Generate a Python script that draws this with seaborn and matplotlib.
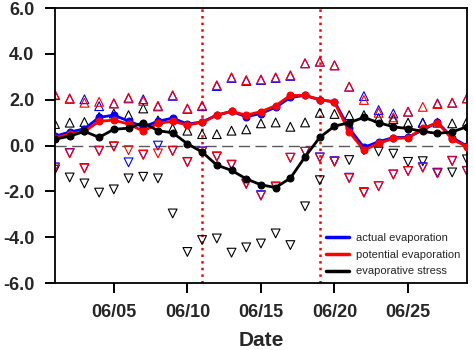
import numpy as np
import pandas as pd
import seaborn as sns
import matplotlib.pyplot as plt
from matplotlib.lines import Line2D

# Daily values, June 1 - June 29
days = list(range(1, 30))

actual = [0.41, 0.59, 0.73, 1.23, 1.33, 1.07, 0.82, 1.06, 1.20, 0.94,
          1.03, 1.33, 1.49, 1.26, 1.40, 1.67, 2.10, 2.19, 1.99, 1.92,
          0.75, -0.08, 0.17, 0.35, 0.36, 0.68, 1.02, 0.35, -0.02]
potential = [0.34, 0.50, 0.62, 1.06, 1.11, 0.94, 0.63, 0.97, 1.06, 0.90,
             1.01, 1.33, 1.49, 1.33, 1.48, 1.74, 2.19, 2.19, 2.01, 1.89,
             0.60, -0.20, 0.10, 0.31, 0.34, 0.75, 1.00, 0.28, -0.05]
stress = [0.28, 0.41, 0.62, 0.36, 0.71, 0.76, 1.00, 0.65, 0.56, 0.08,
          -0.28, -0.85, -1.08, -1.45, -1.71, -1.83, -1.42, -0.49, 0.36, 0.85,
          1.00, 1.23, 1.00, 0.82, 0.74, 0.62, 0.53, 0.60, 0.82]

# upper (triangle up) and lower (triangle down) values
actual_hi = [2.20, 2.04, 2.02, 1.72, 1.84, 2.06, 2.02, 1.71, 2.17, 1.60,
             1.72, 2.60, 2.95, 2.82, 2.86, 2.95, 3.04, 3.59, 3.66, 3.50,
             2.57, 2.16, 1.55, 1.40, 1.48, 1.00, 1.84, 1.87, 2.06]
potential_hi = [2.23, 2.06, 1.87, 1.91, 1.84, 2.09, 1.95, 1.74, 2.20, 1.62,
                1.75, 2.64, 2.98, 2.86, 2.89, 2.98, 3.07, 3.59, 3.66, 3.50,
                2.57, 1.99, 1.43, 1.23, 1.48, 1.69, 1.81, 1.87, 2.06]
stress_hi = [0.94, 1.00, 1.03, 1.25, 1.40, 1.33, 1.62, 1.10, 0.75, 0.65,
             0.50, 0.50, 0.65, 0.71, 0.97, 1.01, 0.82, 1.01, 1.43, 1.38,
             1.33, 1.33, 1.20, 1.15, 1.00, 1.00, 1.00, 0.97, 1.04]

actual_lo = [-0.95, -0.32, -0.98, -0.22, -0.03, -0.73, -0.39, 0.00, -0.22, -0.71,
             -0.25, -0.47, -0.83, -1.65, -2.16, -1.78, -0.53, -0.27, -0.51, -0.68,
             -1.40, -2.03, -1.77, -1.26, -1.11, -0.94, -1.18, -0.66, -1.10]
potential_lo = [-0.97, -0.34, -1.00, -0.24, -0.05, -0.20, -0.41, -0.34, -0.24, -0.73,
                -0.27, -0.49, -0.85, -1.68, -2.19, -1.81, -0.53, -0.27, -0.53, -0.70,
                -1.43, -2.06, -1.77, -1.26, -1.11, -0.97, -1.21, -0.68, -1.12]
stress_lo = [-1.05, -1.39, -1.65, -2.05, -1.91, -1.43, -1.36, -1.43, -2.96, -4.64,
             -4.12, -4.05, -4.67, -4.44, -4.27, -3.83, -4.34, -2.65, -1.51, -0.70,
             -0.63, -0.20, -0.26, -0.35, -0.71, -0.68, -1.20, -1.17, -0.60]

tick_days = [5, 10, 15, 20, 25]
tick_labels = ['06/05', '06/10', '06/15', '06/20', '06/25']
event_days = [11, 19]

sns.set_style('ticks')
plt.rcParams['font.family'] = ['Liberation Sans', 'DejaVu Sans']

fig = plt.figure(figsize=(4.74, 3.5), dpi=100)
ax = fig.add_axes([0.116, 0.191, 0.869, 0.786])

ax.axhline(0, color='0.35', lw=1.0, dashes=(8, 4), zorder=1)
for d in event_days:
    ax.axvline(d, color='red', lw=1.8, ls=':', zorder=1)

# open triangles
tri = [(stress_hi, stress_lo, 'black'),
       (actual_hi, actual_lo, 'blue'),
       (potential_hi, potential_lo, 'red')]
for hi, lo, c in tri:
    sns.scatterplot(x=days, y=hi, marker='^', s=40, facecolor='none',
                    edgecolor=c, linewidth=0.8, ax=ax, zorder=2)
    sns.scatterplot(x=days, y=lo, marker='v', s=40, facecolor='none',
                    edgecolor=c, linewidth=0.8, ax=ax, zorder=2)

# lines
for vals, c in [(actual, 'blue'), (potential, 'red'), (stress, 'black')]:
    sns.lineplot(x=days, y=vals, color=c, lw=2.0, marker='o', markersize=5,
                 markeredgecolor=c, ax=ax, zorder=3)

ax.set_xlim(1, 29)
ax.set_ylim(-6, 6)
ax.set_yticks([-6, -4, -2, 0, 2, 4, 6])
ax.set_yticklabels(['-6.0', '-4.0', '-2.0', '0.0', '2.0', '4.0', '6.0'])
ax.set_xticks(tick_days)
ax.set_xticklabels(tick_labels)
for lab in ax.get_xticklabels() + ax.get_yticklabels():
    lab.set_fontweight('bold')
ax.tick_params(axis='both', labelsize=13, length=7, width=1.4, pad=8, color='black')
ax.set_xlabel('Date', fontsize=15, fontweight='bold', labelpad=7)
ax.set_ylabel('')
for s in ax.spines.values():
    s.set_linewidth(1.3)
    s.set_color('black')

handles = [Line2D([], [], color='blue', lw=2.5),
           Line2D([], [], color='red', lw=2.5),
           Line2D([], [], color='black', lw=2.5)]
ax.legend(handles, ['actual evaporation', 'potential evaporation', 'evaporative stress'],
          loc='lower right', frameon=False, fontsize=8, handlelength=2.1,
          handletextpad=0.6, labelspacing=0.6, borderaxespad=0.2)

fig.savefig('out.png', dpi=100)
